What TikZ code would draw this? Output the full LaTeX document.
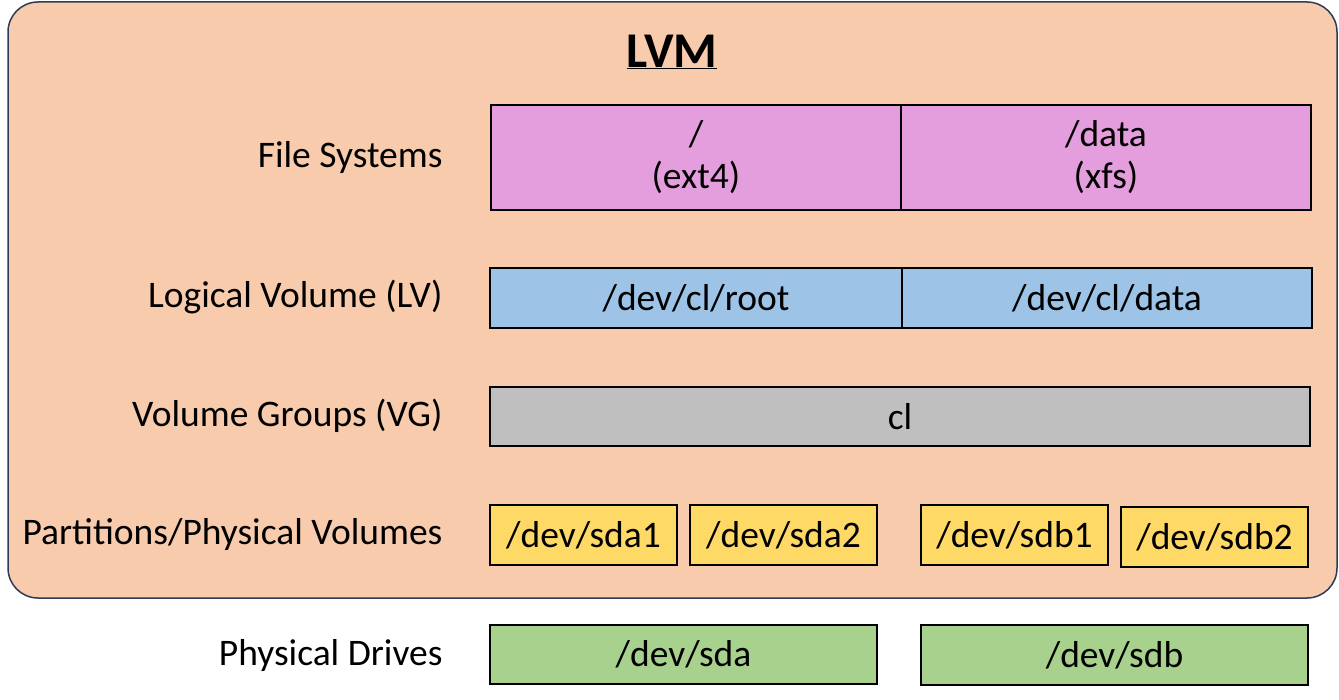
\documentclass[tikz,border=0pt]{standalone}
\usepackage{fontspec}
\setmainfont{Carlito}
\definecolor{bg}{HTML}{F8CBAD}
\definecolor{edge}{HTML}{2F3B56}
\definecolor{fs}{HTML}{E59EDD}
\definecolor{lv}{HTML}{9DC3E6}
\definecolor{vg}{HTML}{BFBFBF}
\definecolor{pv}{HTML}{FFD966}
\definecolor{pd}{HTML}{A9D18E}
\begin{document}
\begin{tikzpicture}[x=1pt,y=-1pt,
  box/.style={draw=black,line width=1.3pt,font=\fontsize{37.5}{42}\selectfont,align=center},
  lab/.style={anchor=east,font=\fontsize{37.5}{42}\selectfont}]
\useasboundingbox (0,0) rectangle (1339,700);
\draw[edge,fill=bg,line width=1.5pt,rounded corners=30pt] (8,2) rectangle (1337,598);
\node (title) at (672,52) {\fontsize{50}{54}\selectfont\bfseries\underline{LVM}};
\def\bx#1#2#3#4#5#6#7{\path[box,fill=#6] (#2,#3) rectangle node (#1) {#7} (#4,#5);}
\bx{fsr}{491}{105}{901}{210}{fs}{/\\(ext4)}
\bx{fsd}{901}{105}{1311}{210}{fs}{/data\\(xfs)}
\bx{lvr}{490}{268}{902}{328}{lv}{/dev/cl/root}
\bx{lvd}{902}{268}{1312}{328}{lv}{/dev/cl/data}
\bx{vgc}{490}{387}{1310}{446}{vg}{cl}
\bx{pa1}{490}{505}{677}{565}{pv}{/dev/sda1}
\bx{pa2}{690}{505}{877}{565}{pv}{/dev/sda2}
\bx{pb1}{921}{505}{1108}{565}{pv}{/dev/sdb1}
\bx{pb2}{1121}{507}{1308}{567}{pv}{/dev/sdb2}
\bx{pda}{490}{625}{877}{684}{pd}{/dev/sda}
\bx{pdb}{921}{625}{1308}{685}{pd}{/dev/sdb}
\node[lab] (l1) at (446,158) {File Systems};
\node[lab] (l2) at (446,297) {Logical Volume (LV)};
\node[lab] (l3) at (446,416) {Volume Groups (VG)};
\node[lab] (l4) at (446,535) {Partitions/Physical Volumes};
\node[lab] (l5) at (446,655) {Physical Drives};
\end{tikzpicture}
\end{document}
